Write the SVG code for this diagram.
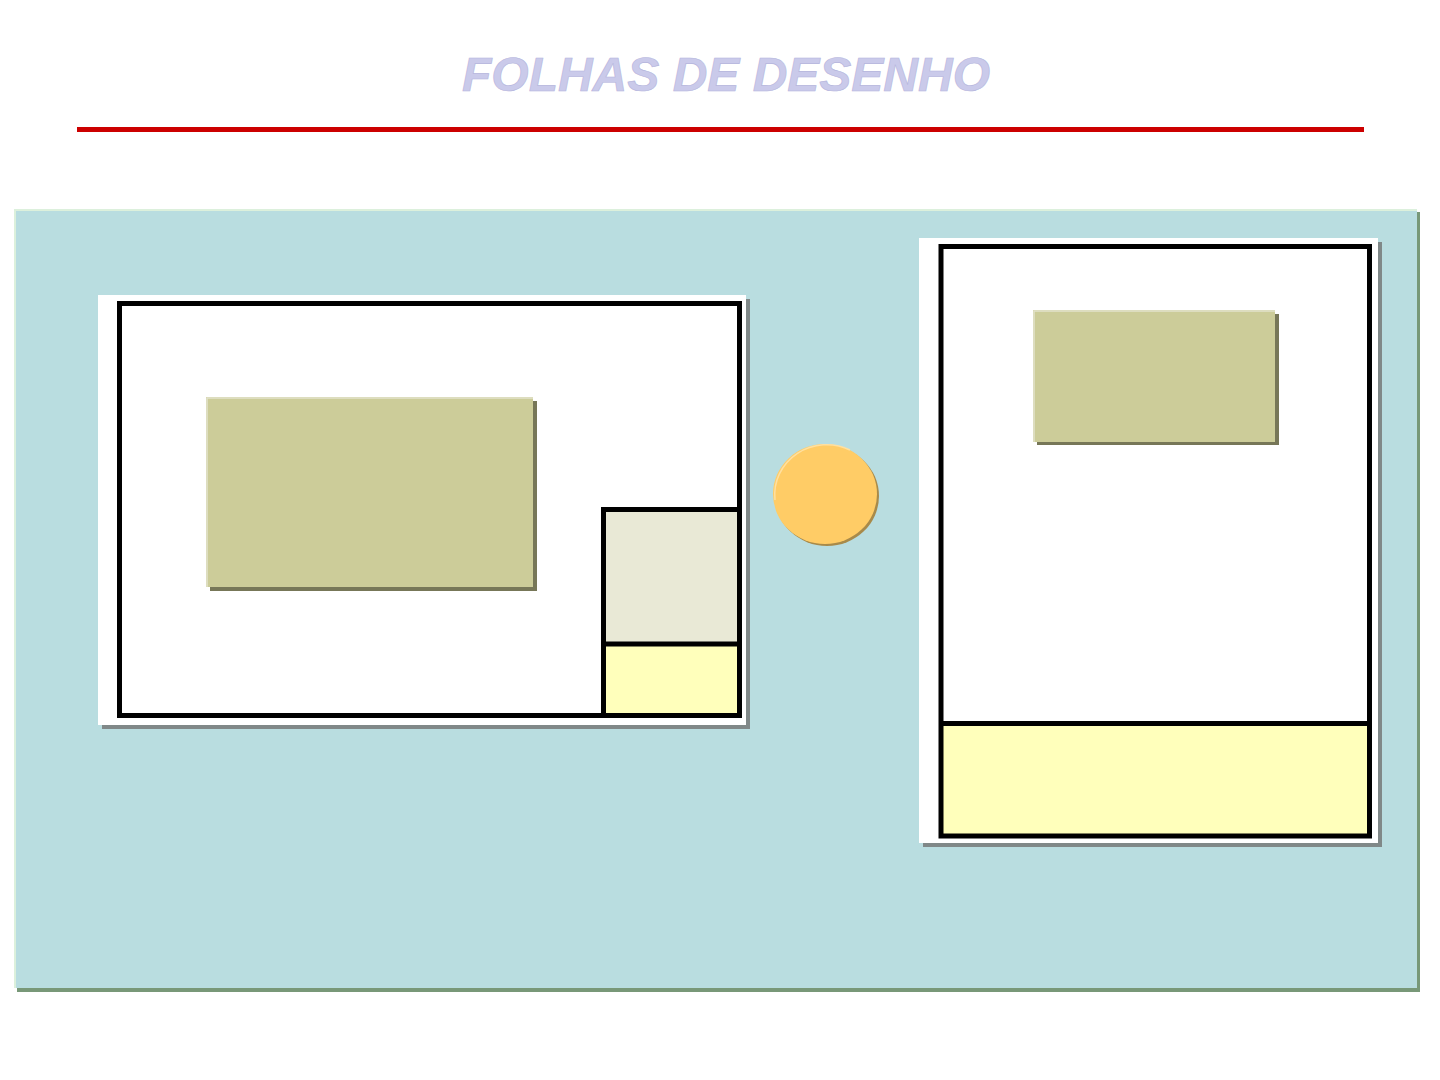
<svg xmlns="http://www.w3.org/2000/svg" width="1440" height="1080" viewBox="0 0 1440 1080">
<style>
.title{font-family:"Liberation Sans",Arial,sans-serif;font-weight:bold;font-style:italic;font-size:48px;fill:#CACAEA;stroke:#B4B4DC;stroke-width:0.6}
.sheet{fill:#FFFFFF}
.shadow{fill:#808888}
.frame{fill:none;stroke:#000000;stroke-width:5}
.view{fill:#CCCC99}
.viewshadow{fill:#777758}
.viewlight{fill:none;stroke:#E2E2CC;stroke-width:1.5}
</style>
<rect width="1440" height="1080" fill="#FFFFFF"/>
<text class="title" x="726" y="91" text-anchor="middle">FOLHAS DE DESENHO</text>
<rect x="77" y="127" width="1287" height="5" fill="#CC0000"/>

<g id="panel">
<rect x="17" y="212" width="1403" height="780" fill="#789878"/>
<rect x="14" y="209" width="1403" height="779" fill="#DCF0DC"/>
<rect x="16" y="211" width="1401" height="777" fill="#B9DDE0"/>
</g>

<g id="sheet-landscape">
<rect class="shadow" x="102" y="299" width="648" height="430"/>
<rect class="sheet" x="98" y="295" width="648" height="430"/>
<rect x="603.5" y="509.5" width="136" height="134.5" fill="#E9E9D6"/>
<rect x="603.5" y="644" width="136" height="71.5" fill="#FFFFBB"/>
<rect class="frame" x="119.5" y="303.5" width="620" height="412"/>
<polyline class="frame" points="603.5,715.5 603.5,509.5 739.5,509.5"/>
<line class="frame" x1="603.5" y1="644" x2="739.5" y2="644"/>
<rect class="viewshadow" x="210" y="401" width="327" height="190"/>
<rect class="view" x="206" y="397" width="327" height="190"/>
<polyline class="viewlight" points="207,587 207,398 533,398"/>
</g>

<g id="circle">
<ellipse cx="827" cy="496" rx="52" ry="50" fill="#A88A4A"/>
<ellipse cx="825" cy="494" rx="52" ry="50" fill="#FFCC66"/>
<path d="M 775 500 A 52 50 0 0 1 850 450" fill="none" stroke="#FFE0A0" stroke-width="1.5"/>
</g>

<g id="sheet-portrait">
<rect class="shadow" x="923" y="242" width="459" height="605"/>
<rect class="sheet" x="919" y="238" width="459" height="605"/>
<rect x="941" y="723.5" width="428.5" height="112.5" fill="#FFFFBB"/>
<rect class="frame" x="941" y="246.5" width="428.5" height="589.5"/>
<line class="frame" x1="941" y1="723.5" x2="1369.5" y2="723.5"/>
<rect class="viewshadow" x="1037" y="314" width="242" height="131"/>
<rect class="view" x="1033" y="310" width="242" height="132"/>
<polyline class="viewlight" points="1034,442 1034,311 1275,311"/>
</g>
</svg>
